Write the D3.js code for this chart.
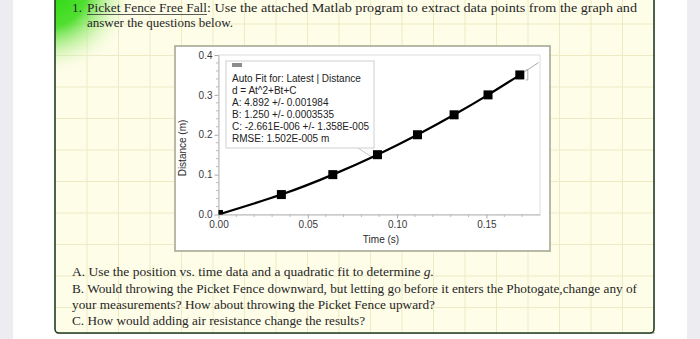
<!DOCTYPE html>
<html><head><meta charset="utf-8">
<script src="https://cdn.jsdelivr.net/npm/d3@7"></script>
<style>html,body{margin:0;padding:0;background:#fff;overflow:hidden}</style>
</head><body><svg id="c" width="700" height="339" xmlns="http://www.w3.org/2000/svg"></svg>
<script>
// ---- data ----
const times = [0, 0.0352, 0.0640, 0.0890, 0.1114, 0.1319, 0.1509, 0.1687];
const distances = [0, 0.05, 0.10, 0.15, 0.20, 0.25, 0.30, 0.35];
const fitEnd = [0.1792, 0.381];
const pointerAt = [0.086, 0.1435];
const xTicks = [0, 0.05, 0.10, 0.15];
const yTicks = [0, 0.1, 0.2, 0.3, 0.4];
const xTitle = "Time (s)";
const yTitle = "Distance (m)";
const fitLines = ["Auto Fit for: Latest | Distance", "d = At^2+Bt+C", "A: 4.892 +/- 0.001984",
  "B: 1.250 +/- 0.0003535", "C: -2.661E-006 +/- 1.358E-005", "RMSE: 1.502E-005 m"];
const questionLines = [
  "A. Use the position vs. time data and a quadratic fit to determine ",
  "B. Would throwing the Picket Fence downward, but letting go before it enters the Photogate,change any of",
  "your measurements? How about throwing the Picket Fence upward?",
  "C. How would adding air resistance change the results?"];

const svg = d3.select("#c");
const defs = svg.append("defs");

// page background
svg.append("rect").attr("x",0).attr("y",0).attr("width",700).attr("height",339).attr("fill","#fff");
svg.append("rect").attr("x",0).attr("y",0).attr("width",13).attr("height",339).attr("fill","#ededf1");
svg.append("rect").attr("x",687).attr("y",0).attr("width",13).attr("height",339).attr("fill","#ededf1");

// document box
const bx0 = 55, bx1 = 654, by1 = 333;
const clip = defs.append("clipPath").attr("id","boxclip");
clip.append("rect").attr("x",bx0).attr("y",-20).attr("width",bx1-bx0).attr("height",by1+20).attr("rx",4);
svg.append("rect").attr("x",bx0+1).attr("y",by1-2).attr("width",bx1-bx0).attr("height",3).attr("rx",3).attr("fill","#c8c8c0");
const g = svg.append("g").attr("clip-path","url(#boxclip)");
g.append("rect").attr("x",bx0).attr("y",-20).attr("width",bx1-bx0).attr("height",by1+20).attr("fill","#fefde8");
// grid
const gridX = d3.range(87, bx1, 31.5), gridY = d3.range(-7.5, by1, 31.5);
g.selectAll("line.gx").data(gridX).join("line").attr("x1",d=>d).attr("x2",d=>d).attr("y1",-20).attr("y2",by1)
  .attr("stroke","#eeebc4").attr("stroke-width",1);
g.selectAll("line.gy").data(gridY).join("line").attr("y1",d=>d).attr("y2",d=>d).attr("x1",bx0).attr("x2",bx1)
  .attr("stroke","#eeebc4").attr("stroke-width",1);
// green glow
const rg = defs.append("radialGradient").attr("id","glow").attr("gradientUnits","userSpaceOnUse")
  .attr("cx",48).attr("cy",-12).attr("r",88);
rg.append("stop").attr("offset","0").attr("stop-color","#22d808").attr("stop-opacity",1);
rg.append("stop").attr("offset","0.45").attr("stop-color","#3ddc1c").attr("stop-opacity",0.9);
rg.append("stop").attr("offset","0.7").attr("stop-color","#8fe866").attr("stop-opacity",0.45);
rg.append("stop").attr("offset","1").attr("stop-color","#fefde8").attr("stop-opacity",0);
g.append("rect").attr("x",bx0).attr("y",-20).attr("width",200).attr("height",160).attr("fill","url(#glow)");
svg.append("rect").attr("x",bx0).attr("y",-20).attr("width",bx1-bx0).attr("height",by1+20).attr("rx",4)
  .attr("fill","none").attr("stroke","#1f3d22").attr("stroke-width",1.6);

// document text
const serif = "'Liberation Serif','DejaVu Serif',serif";
function txt(x, y, s, len) {
  const t = svg.append("text").attr("x",x).attr("y",y).attr("font-family",serif).attr("font-size",13)
    .attr("fill","#262626").text(s);
  if (len) t.attr("textLength",len).attr("lengthAdjust","spacingAndGlyphs");
  return t;
}
txt(72, 12, "1.", 10);
txt(87, 12, "Picket Fence Free Fall", 120);
svg.append("line").attr("x1",87).attr("x2",207).attr("y1",14.5).attr("y2",14.5).attr("stroke","#333").attr("stroke-width",0.8);
txt(207, 12, ": Use the attached Matlab program to extract data points from the graph and", 430);
txt(87, 27, "answer the questions below.", 146);
const qy = [276, 292.5, 308.5, 325];
const qlen = [362, 565, 363, 293];
questionLines.forEach((s,i)=>{
  const t = txt(72, qy[i], s, qlen[i]);
  if (i===0) t.append("tspan").attr("font-style","italic").text("g.");
});

// chart panel
svg.append("rect").attr("x",175).attr("y",46).attr("width",375).attr("height",205)
  .attr("fill","#fff").attr("stroke","#a8a894").attr("stroke-width",1.6);

const x = d3.scaleLinear().domain([0, 0.18]).range([218.5, 540]);
const y = d3.scaleLinear().domain([0, 0.4]).range([214.5, 55]);
const sans = "'Liberation Sans',Arial,sans-serif";

// frame
svg.append("rect").attr("x",x(0)).attr("y",y(0.4)).attr("width",x(0.18)-x(0)).attr("height",y(0)-y(0.4))
  .attr("fill","none").attr("stroke","#dedede").attr("stroke-width",1);

// minor ticks
const minorX = d3.range(0.01, 0.18, 0.01).filter(v=>!xTicks.some(t=>Math.abs(t-v)<1e-9));
const minorY = d3.range(0.02, 0.4, 0.02).filter(v=>!yTicks.some(t=>Math.abs(t-v)<1e-9));
svg.selectAll("line.mx").data(minorX).join("line").attr("x1",d=>x(d)).attr("x2",d=>x(d))
  .attr("y1",y(0)).attr("y2",y(0)+2.5).attr("stroke","#bbb");
svg.selectAll("line.my").data(minorY).join("line").attr("y1",d=>y(d)).attr("y2",d=>y(d))
  .attr("x1",x(0)).attr("x2",x(0)-2.5).attr("stroke","#bbb");

const xa = svg.append("g").attr("transform",`translate(0,${y(0)})`)
  .call(d3.axisBottom(x).tickValues(xTicks).tickFormat(d3.format(".2f")).tickSize(4).tickSizeOuter(0));
const ya = svg.append("g").attr("transform",`translate(${x(0)},0)`)
  .call(d3.axisLeft(y).tickValues(yTicks).tickFormat(d3.format(".1f")).tickSize(4).tickSizeOuter(0));
[xa, ya].forEach(a=>{
  a.select(".domain").attr("stroke","#b8b8b8");
  a.selectAll(".tick line").attr("stroke","#aaa");
  a.selectAll(".tick text").attr("font-family",sans).attr("font-size",10).attr("fill","#3a3a3a");
});
xa.selectAll(".tick text").attr("dy","0.85em").attr("y",5);
ya.selectAll(".tick text").attr("x",-6);

svg.append("text").attr("x",381).attr("y",243).attr("text-anchor","middle").attr("font-family",sans)
  .attr("font-size",10).attr("fill","#2a2a2a").text(xTitle);
svg.append("text").attr("transform","translate(186,148) rotate(-90)").attr("text-anchor","middle")
  .attr("font-family",sans).attr("font-size",10).attr("fill","#2a2a2a").text(yTitle);

// plot clip
defs.append("clipPath").attr("id","plotclip").append("rect")
  .attr("x",x(0)).attr("y",y(0.4)).attr("width",x(0.18)-x(0)).attr("height",y(0)-y(0.4));
const pg = svg.append("g").attr("clip-path","url(#plotclip)");
const pts = times.map((t,i)=>[t, distances[i]]);
const last = pts[pts.length-1];
pg.append("path").attr("d", d3.line().x(d=>x(d[0])).y(d=>y(d[1]))([last, fitEnd]))
  .attr("fill","none").attr("stroke","#aaa").attr("stroke-width",1);
// callout pointer
pg.append("path").attr("d", `M${x(pointerAt[0])-14},148 L${x(pointerAt[0])},${y(pointerAt[1])}`)
  .attr("stroke","#c4c4c4").attr("fill","none").attr("stroke-width",1);
pg.append("path").attr("d", d3.line().curve(d3.curveNatural).x(d=>x(d[0])).y(d=>y(d[1]))(pts))
  .attr("fill","none").attr("stroke","#000").attr("stroke-width",2.2);
pg.selectAll("rect.pt").data(pts).join("rect").attr("x",d=>x(d[0])-4.5).attr("y",d=>y(d[1])-4.5)
  .attr("width",9).attr("height",9).attr("fill","#000");
// bracket
const bxp = x(last[0])+8, byp = y(last[1]);
pg.append("path").attr("d",`M${bxp-2},${byp-5} h2 v10 h-2`).attr("fill","none").attr("stroke","#999").attr("stroke-width",0.8);

// fit callout
svg.append("rect").attr("x",226).attr("y",61).attr("width",148).attr("height",87)
  .attr("fill","#fff").attr("stroke","#cfcfcf").attr("stroke-width",1);
svg.append("rect").attr("x",232).attr("y",63).attr("width",10).attr("height",4).attr("fill","#8c8c8c");
svg.selectAll("text.fit").data(fitLines).join("text").attr("x",232).attr("y",(d,i)=>82+i*12)
  .attr("font-family",sans).attr("font-size",10).attr("fill","#222").text(d=>d);
</script></body></html>
